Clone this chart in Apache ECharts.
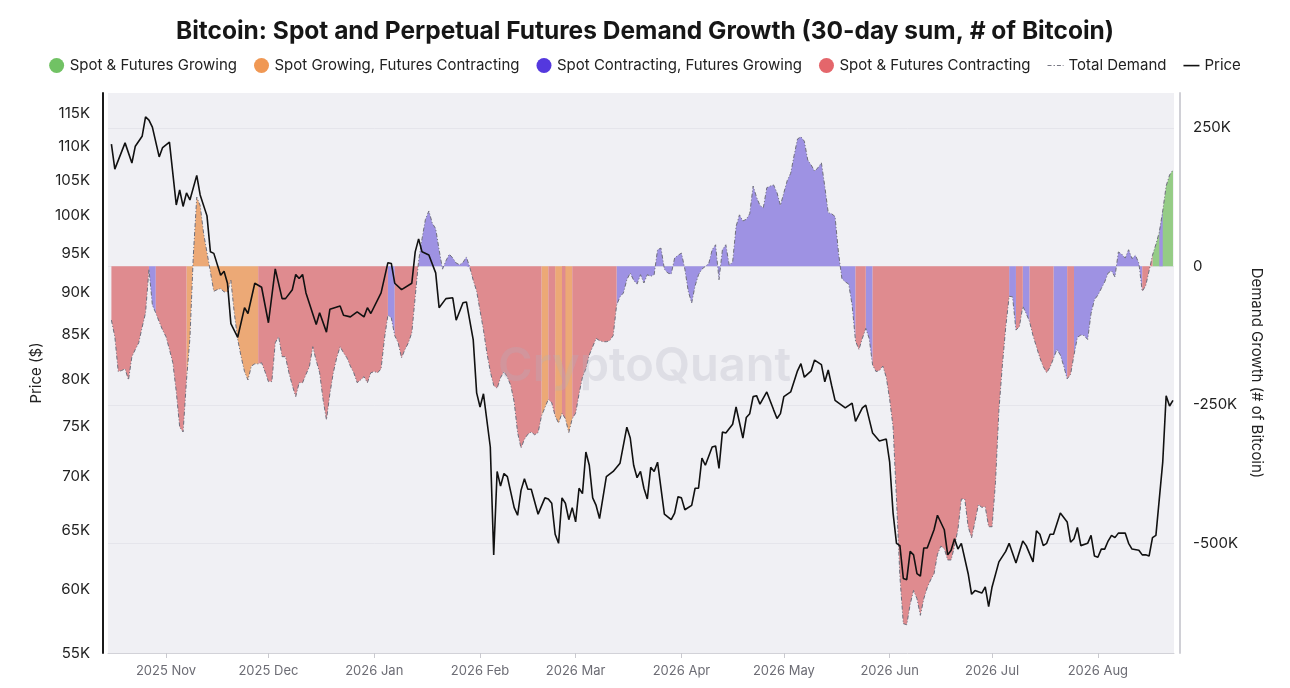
<!DOCTYPE html>
<html>
<head>
<meta charset="utf-8">
<script src="https://cdn.jsdelivr.net/npm/echarts@6/dist/echarts.min.js"></script>
<style>
  html, body { margin: 0; padding: 0; background: #fff; }
  #chart { width: 1290px; height: 688px; }
</style>
</head>
<body>
<div id="chart"></div>
<script>
// x values are day offsets counted from 2025-11-01
const BASE = new Date(2025, 10, 1);

// BTC price, thousands of USD
const priceDays = [-16,-15,-12,-10,-9,-7,-6,-5,-4,-2,-1,1,3,4,5,6,7,9,10,12,
  13,14,16,17,18,19,21,23,24,26,28,30,32,34,35,37,38,39,40,41,
  44,45,47,48,51,52,54,56,58,59,60,63,65,66,67,69,72,73,74,75,
  77,79,80,82,84,85,87,88,90,91,92,93,95,96,97,98,99,100,102,103,
  104,105,106,107,109,111,112,113,114,115,116,117,118,119,120,121,122,123,124,125,
  126,127,129,131,133,135,136,137,138,139,140,141,142,143,144,146,148,149,150,151,
  152,154,155,156,157,158,160,161,162,163,164,166,167,169,170,171,172,173,174,176,
  178,179,180,181,183,185,186,187,189,190,192,193,194,195,196,199,201,202,204,205,
  207,209,211,212,213,214,215,216,217,218,219,220,221,222,223,225,226,228,229,230,
  231,232,233,235,236,237,239,240,241,242,244,246,247,249,251,252,254,255,256,257,
  258,259,260,262,264,265,266,267,268,270,271,272,273,274,275,276,277,278,279,281,
  282,283,285,286,287,288,289,290,292,293,294,295];
const priceK = [110.3,106.6,110.5,107.5,110.0,111.5,114.5,114.0,112.9,108.4,109.8,110.6,101.5,103.6,101.3,103.2,102.2,105.7,102.9,100.0,
  95.2,95.0,92.2,92.7,91.2,86.3,84.7,88.2,87.5,91.2,90.7,86.4,93.0,89.3,89.3,90.4,92.3,91.8,92.3,90.0,
  86.2,87.6,85.3,88.0,88.4,87.3,87.1,87.7,87.1,88.2,87.5,90.0,93.8,93.7,91.2,90.4,91.2,95.2,96.9,95.2,
  94.8,92.5,88.2,89.3,89.4,86.7,88.8,88.9,84.4,78.5,77.0,78.4,72.9,62.9,70.5,69.1,70.3,70.0,67.1,66.4,
  68.7,69.8,68.8,68.8,66.5,68.0,67.9,67.5,64.7,63.9,68.0,67.5,66.0,67.1,65.8,68.9,68.4,72.4,71.1,68.0,
  67.3,66.1,70.0,70.5,71.3,74.9,73.8,71.1,69.9,70.5,68.9,67.9,70.9,70.5,71.4,66.5,66.0,66.6,68.1,68.0,
  66.9,67.3,68.9,68.9,71.8,71.1,72.9,73.0,70.8,74.4,74.3,75.2,77.0,73.8,75.9,76.3,78.1,78.2,77.3,78.6,
  76.7,75.8,76.3,78.1,78.6,80.9,81.7,80.2,80.9,82.1,81.6,79.7,81.0,79.3,77.7,76.9,77.4,75.5,76.9,77.2,
  74.3,73.5,73.7,71.4,66.6,63.9,63.7,60.9,60.8,63.2,62.9,61.3,61.1,63.5,63.5,65.1,66.4,65.1,62.9,63.3,
  64.3,63.4,63.9,61.3,59.6,59.9,59.7,60.2,58.6,60.2,62.3,63.2,63.9,62.2,64.1,63.7,62.3,65.0,64.7,63.7,
  63.9,64.7,64.7,66.6,65.8,64.0,64.3,65.3,63.7,63.9,64.6,62.8,62.7,63.4,63.4,64.1,64.6,64.4,64.8,64.8,
  63.9,63.4,63.3,62.9,62.9,62.8,64.4,64.6,71.4,78.2,77.1,77.7];

// 30-day demand growth, thousands of BTC, one value per day from day -16
const demandFirstDay = -16;
const demandK = [-97,-127,-190,-188,-185,-205,-163,-150,-138,-110,
  -84,-5,-70,-84,-100,-115,-127,-150,-174,-226,
  -290,-299,-205,-130,20,125,110,60,25,-10,
  -45,-42,-40,-46,-46,-25,-84,-132,-163,-190,
  -205,-180,-176,-176,-174,-190,-208,-208,-138,-127,
  -163,-163,-192,-215,-235,-210,-210,-195,-181,-145,
  -170,-192,-240,-277,-230,-192,-165,-145,-156,-165,
  -180,-192,-210,-205,-199,-210,-192,-190,-192,-185,
  -130,-88,-93,-125,-138,-165,-150,-138,-120,-55,
  10,50,85,100,78,68,30,-5,10,22,
  15,6,3,7,17,-2,-25,-45,-80,-115,
  -156,-190,-215,-220,-201,-190,-200,-215,-245,-300,
  -328,-312,-303,-299,-304,-300,-270,-255,-240,-246,
  -270,-283,-265,-275,-300,-275,-265,-230,-200,-185,
  -160,-145,-130,-134,-136,-136,-134,-125,-70,-55,
  -48,-24,-12,-25,-32,-15,-30,-15,-18,-15,
  30,33,-5,-12,-14,15,20,24,-5,-45,
  -66,-35,-15,-5,0,5,30,39,-24,30,
  39,2,8,72,93,82,85,95,145,125,
  110,106,142,145,147,133,110,133,155,168,
  200,230,234,226,192,183,172,178,187,144,
  97,95,90,25,-22,-28,-32,-70,-135,-150,
  -130,-112,-130,-178,-190,-188,-180,-200,-240,-290,
  -420,-560,-645,-647,-610,-585,-600,-630,-600,-580,
  -566,-555,-520,-505,-510,-530,-530,-505,-475,-420,
  -420,-470,-490,-461,-430,-435,-434,-470,-470,-390,
  -260,-180,-110,-54,-55,-115,-109,-72,-85,-100,
  -125,-145,-165,-181,-192,-182,-166,-150,-160,-180,
  -203,-195,-160,-128,-124,-125,-132,-85,-60,-52,
  -40,-28,-12,-8,-19,26,22,15,30,14,
  20,6,-45,-35,-8,20,40,62,100,145,
  165,174];

// regime of each day, as runs: G growing/growing, O spot up futures down, P spot down futures up, R both down
const regimeCodes = ['R','P','R','O','R','P','R','P','R','O','R','O','R','O','R','P','R','P','R','P','R','P','R','P','R','P','R','G','P','G'];
const regimeLengths = [11,2,9,21,38,2,7,15,21,2,2,2,1,2,13,70,3,2,40,2,2,2,7,4,2,20,3,2,1,4];

const regimeOrder = ['G', 'O', 'P', 'R'];
const regimeNames = {
  G: 'Spot & Futures Growing',
  O: 'Spot Growing, Futures Contracting',
  P: 'Spot Contracting, Futures Growing',
  R: 'Spot & Futures Contracting'
};
const regimeDot = { G: '#71c264', O: '#f09854', P: '#5438de', R: '#e4666b' };
const regimeFill = { G: '#95cc86', O: '#eca976', P: '#9e92e3', R: '#df8b8f' };

const priceTicks = [55, 60, 65, 70, 75, 80, 85, 90, 95, 100, 105, 110, 115];
const demandTicks = [-500, -250, 0, 250];
const monthNames = ['Jan','Feb','Mar','Apr','May','Jun','Jul','Aug','Sep','Oct','Nov','Dec'];

const FONT = 'Inter, "Liberation Sans", "DejaVu Sans", sans-serif';

function dayOffset(date) {
  return Math.round((date - BASE) / 86400000);
}
function offsetToDate(d) {
  return new Date(BASE.getFullYear(), BASE.getMonth(), BASE.getDate() + d);
}
const monthTicks = [];
for (let m = 0; m < 10; m++) monthTicks.push(dayOffset(new Date(2025, 10 + m, 1)));

const regime = [];
regimeCodes.forEach((c, i) => {
  for (let k = 0; k < regimeLengths[i]; k++) regime.push(c);
});
const demandDays = demandK.map((_, i) => demandFirstDay + i);

// each regime area keeps its own days plus the first day after it, so pieces join up
function regimeData(code) {
  return demandK.map((v, i) => {
    const on = regime[i] === code || regime[i - 1] === code;
    return [demandDays[i], on ? v : null];
  });
}

const areaSeries = regimeOrder.map(code => ({
  name: regimeNames[code],
  type: 'line',
  yAxisIndex: 1,
  data: regimeData(code),
  symbol: 'none',
  showSymbol: false,
  connectNulls: false,
  lineStyle: { width: 0 },
  itemStyle: { color: regimeDot[code] },
  areaStyle: { color: regimeFill[code], opacity: 1 },
  z: 1
}));

const chart = echarts.init(document.getElementById('chart'), null, { renderer: 'canvas' });

chart.setOption({
  animation: false,
  backgroundColor: '#ffffff',
  textStyle: { fontFamily: FONT },
  title: {
    text: 'Bitcoin: Spot and Perpetual Futures Demand Growth (30-day sum, # of Bitcoin)',
    left: 'center',
    top: 14,
    textStyle: { fontFamily: FONT, fontSize: 24.5, fontWeight: 'bold', color: '#161616' }
  },
  legend: {
    top: 53,
    left: 'center',
    itemGap: 17,
    itemWidth: 16,
    itemHeight: 15,
    itemStyle: { borderWidth: 0 },
    textStyle: { fontFamily: FONT, fontSize: 15, color: '#222' },
    data: regimeOrder.map(c => ({ name: regimeNames[c], icon: 'circle', itemStyle: { color: regimeDot[c] } }))
      .concat([
        { name: 'Total Demand', icon: 'path://M0,0M16,15M0,7h4v1h-4zM6,7h1.4v1h-1.4zM9.4,7h4v1h-4zM15.2,7h0.8v1h-0.8z', itemStyle: { color: '#777783' } },
        { name: 'Price', icon: 'path://M0,0M16,15M0,6.8h16v1.6h-16z', itemStyle: { color: '#111' } }
      ])
  },
  grid: {
    left: 108, right: 116, top: 93, bottom: 35,
    show: true, backgroundColor: '#f0f0f4', borderWidth: 0,
    containLabel: false, outerBoundsMode: 'none'
  },
  graphic: [{
    type: 'text',
    left: 498,
    top: 343,
    silent: true,
    z: 10,
    style: {
      text: 'CryptoQuant',
      font: '600 47px ' + FONT,
      fill: 'rgba(175,175,190,0.28)'
    }
  }],
  xAxis: {
    type: 'value',
    min: -17,
    max: 295.3,
    axisLine: { show: true, onZero: false, lineStyle: { color: '#d2d2d8', width: 1 } },
    axisTick: { show: true, customValues: monthTicks, length: 5, lineStyle: { color: '#c9c9cf' } },
    axisLabel: {
      customValues: monthTicks,
      color: '#6c6c74',
      fontSize: 13,
      margin: 12,
      fontFamily: FONT,
      formatter: v => {
        const d = offsetToDate(v);
        return d.getFullYear() + ' ' + monthNames[d.getMonth()];
      }
    },
    splitLine: { show: false }
  },
  yAxis: [{
    type: 'log',
    logBase: 10,
    min: 55,
    max: 118.3,
    position: 'left',
    offset: 5,
    name: 'Price ($)',
    nameLocation: 'middle',
    nameRotate: 90,
    nameGap: 57,
    nameTextStyle: { fontFamily: FONT, fontSize: 15, color: '#222' },
    axisLine: { show: true, onZero: false, lineStyle: { color: '#1a1a1a', width: 2 } },
    axisTick: { show: false, customValues: priceTicks },
    axisLabel: {
      customValues: priceTicks,
      fontFamily: FONT, fontSize: 15, color: '#222', margin: 13,
      formatter: v => Math.round(v) + 'K'
    },
    splitLine: { show: false }
  }, {
    type: 'value',
    min: -698,
    max: 313,
    position: 'right',
    offset: 6,
    name: 'Demand Growth (# of Bitcoin)',
    nameLocation: 'middle',
    nameRotate: -90,
    nameGap: 60,
    nameTextStyle: { fontFamily: FONT, fontSize: 15, color: '#222' },
    axisLine: { show: true, onZero: false, lineStyle: { color: '#d0d0d6', width: 2 } },
    axisTick: { show: false, customValues: demandTicks },
    axisLabel: {
      customValues: demandTicks,
      fontFamily: FONT, fontSize: 15, color: '#222', margin: 13,
      formatter: v => v === 0 ? '0' : v + 'K'
    },
    splitLine: { show: true, lineStyle: { color: '#e5e5eb', width: 1 } }
  }],
  series: areaSeries.concat([{
    name: 'Total Demand',
    type: 'line',
    yAxisIndex: 1,
    data: demandK.map((v, i) => [demandDays[i], v]),
    symbol: 'none',
    showSymbol: false,
    itemStyle: { color: '#777783' },
    lineStyle: { color: '#6f6f7d', width: 1, type: [4, 2, 1, 2] },
    z: 2
  }, {
    name: 'Price',
    type: 'line',
    yAxisIndex: 0,
    data: priceDays.map((d, i) => [d, priceK[i]]),
    symbol: 'none',
    showSymbol: false,
    itemStyle: { color: '#111' },
    lineStyle: { color: '#111', width: 1.6 },
    z: 3
  }])
});
</script>
</body>
</html>
